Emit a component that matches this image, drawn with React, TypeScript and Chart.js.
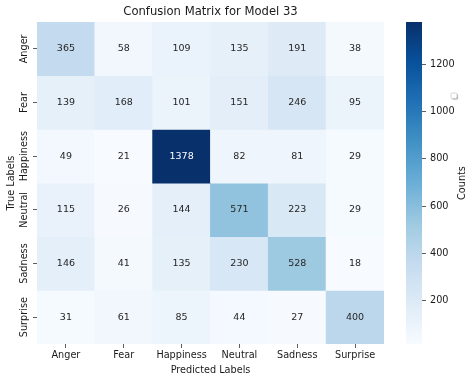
import React, { useEffect, useRef } from "react";
import { Chart, registerables } from "chart.js";

Chart.register(...registerables);

// ---------------- data ----------------
const predictedLabels = ["Anger", "Fear", "Happiness", "Neutral", "Sadness", "Surprise"];
const trueLabels = ["Anger", "Fear", "Happiness", "Neutral", "Sadness", "Surprise"];

const angerRow = [365, 58, 109, 135, 191, 38];
const fearRow = [139, 168, 101, 151, 246, 95];
const happinessRow = [49, 21, 1378, 82, 81, 29];
const neutralRow = [115, 26, 144, 571, 223, 29];
const sadnessRow = [146, 41, 135, 230, 528, 18];
const surpriseRow = [31, 61, 85, 44, 27, 400];

const matrixRows = [angerRow, fearRow, happinessRow, neutralRow, sadnessRow, surpriseRow];

const colorbarTicks = [200, 400, 600, 800, 1000, 1200];

const chartTitle = "Confusion Matrix for Model 33";
const xTitle = "Predicted Labels";
const yTitle = "True Labels";
const colorbarTitle = "Counts";

// ---------------- colour map (matplotlib "Blues") ----------------
const BLUES: number[][] = [
  [247, 251, 255],
  [222, 235, 247],
  [198, 219, 239],
  [158, 202, 225],
  [107, 174, 214],
  [66, 146, 198],
  [33, 113, 181],
  [8, 81, 156],
  [8, 48, 107],
];

function bluesRGB(t: number): number[] {
  const c = Math.max(0, Math.min(1, t)) * (BLUES.length - 1);
  const i = Math.min(Math.floor(c), BLUES.length - 2);
  const f = c - i;
  const a = BLUES[i];
  const b = BLUES[i + 1];
  return [0, 1, 2].map((k) => a[k] + (b[k] - a[k]) * f);
}
function rgbStr(c: number[]) {
  return `rgb(${Math.round(c[0])},${Math.round(c[1])},${Math.round(c[2])})`;
}
function luminance(c: number[]) {
  const lin = c.map((v) => {
    const s = v / 255;
    return s <= 0.03928 ? s / 12.92 : Math.pow((s + 0.055) / 1.055, 2.4);
  });
  return 0.2126 * lin[0] + 0.7152 * lin[1] + 0.0722 * lin[2];
}

const allValues = matrixRows.flat();
const vmin = Math.min(...allValues);
const vmax = Math.max(...allValues);
const norm = (v: number) => (v - vmin) / (vmax - vmin);

const FONT = "'DejaVu Sans', sans-serif";
const TEXT = "#1a1a1a";
const TICK = "#333";
const LABEL_SIZE = 9.7;

const extrasPlugin = {
  id: "heatmapExtras",
  afterDatasetsDraw(chart: any) {
    const ctx = chart.ctx;
    ctx.save();
    ctx.font = `9.5px ${FONT}`;
    ctx.textAlign = "center";
    ctx.textBaseline = "middle";
    chart.data.datasets.forEach((_ds: any, r: number) => {
      const meta = chart.getDatasetMeta(r);
      meta.data.forEach((el: any, c: number) => {
        const v = matrixRows[r][c];
        const p = el.getProps(["x", "y", "base"], true);
        const col = bluesRGB(norm(v));
        ctx.fillStyle = luminance(col) > 0.408 ? "#262626" : "#ffffff";
        ctx.fillText(String(v), p.x, (p.y + p.base) / 2);
      });
    });
    ctx.restore();
  },
  afterDraw(chart: any) {
    const ctx = chart.ctx;
    const yS = chart.scales.y;
    const cb = chart.scales.cbar;
    const gap = chart.scales.cbgap;
    ctx.save();

    // y tick labels (rotated, reading bottom to top)
    ctx.font = `${LABEL_SIZE}px ${FONT}`;
    ctx.fillStyle = TEXT;
    ctx.textAlign = "center";
    ctx.textBaseline = "middle";
    trueLabels.forEach((lab, i) => {
      const py = yS.getPixelForValue(i + 0.5);
      ctx.save();
      ctx.translate(yS.right - 13, py);
      ctx.rotate(-Math.PI / 2);
      ctx.fillText(lab, 0, 0);
      ctx.restore();
    });

    // colour bar
    const yTop = cb.getPixelForValue(vmax);
    const yBot = cb.getPixelForValue(vmin);
    const x1 = gap.right;
    const x0 = x1 - 16;
    const grad = ctx.createLinearGradient(0, yBot, 0, yTop);
    BLUES.forEach((c, i) => grad.addColorStop(i / (BLUES.length - 1), rgbStr(c)));
    ctx.fillStyle = grad;
    ctx.fillRect(x0, yTop, x1 - x0, yBot - yTop);

    // colour bar title
    ctx.fillStyle = TEXT;
    ctx.font = `${LABEL_SIZE}px ${FONT}`;
    ctx.save();
    ctx.translate(cb.right - 12, (cb.top + cb.bottom) / 2);
    ctx.rotate(-Math.PI / 2);
    ctx.fillText(colorbarTitle, 0, 0);
    ctx.restore();

    // empty legend box
    const lx = cb.left + 29;
    const ly = cb.top + 71;
    ctx.shadowColor = "rgba(0,0,0,0.35)";
    ctx.shadowBlur = 1;
    ctx.shadowOffsetX = 1;
    ctx.shadowOffsetY = 1;
    ctx.beginPath();
    ctx.roundRect(lx, ly, 6, 5.5, 1.5);
    ctx.fillStyle = "#ffffff";
    ctx.fill();
    ctx.shadowColor = "transparent";
    ctx.strokeStyle = "#c8c8c8";
    ctx.lineWidth = 0.8;
    ctx.stroke();
    ctx.restore();
  },
};

export default function App() {
  const canvasRef = useRef<HTMLCanvasElement | null>(null);

  useEffect(() => {
    if (!canvasRef.current) return;
    const datasets = matrixRows.map((row, r) => ({
      label: trueLabels[r],
      data: row.map(() => [r, r + 1]),
      backgroundColor: row.map((v) => rgbStr(bluesRGB(norm(v)))),
      borderWidth: 0,
      barPercentage: 1,
      categoryPercentage: 1,
      grouped: false,
      inflateAmount: 0.4,
    }));

    const chart = new Chart(canvasRef.current, {
      type: "bar",
      data: { labels: predictedLabels, datasets: datasets as any },
      options: {
        animation: false,
        responsive: false,
        events: [],
        layout: { padding: 0 },
        plugins: {
          legend: { display: false },
          tooltip: { enabled: false },
          title: {
            display: true,
            text: chartTitle,
            fullSize: false,
            color: TEXT,
            font: { family: FONT, size: 11.6, weight: "normal" },
            padding: { top: 5, bottom: 3.08 },
          },
        },
        scales: {
          x: {
            type: "category",
            offset: true,
            grid: { offset: false, drawOnChartArea: false, drawTicks: true, tickLength: 4, color: TICK, lineWidth: 0.8 },
            border: { display: false },
            ticks: { padding: 2, color: TEXT, font: { family: FONT, size: LABEL_SIZE }, maxRotation: 0, autoSkip: false },
            title: {
              display: true,
              text: xTitle,
              color: TEXT,
              font: { family: FONT, size: LABEL_SIZE },
              padding: { top: 0, bottom: 6.2 },
            },
            afterFit: (s: any) => {
              s.height = 38;
            },
          },
          y: {
            type: "linear",
            position: "left",
            min: 0,
            max: trueLabels.length,
            reverse: true,
            grid: { drawOnChartArea: false, drawTicks: true, tickLength: 4, color: TICK, lineWidth: 0.8 },
            border: { display: false },
            ticks: { color: "rgba(0,0,0,0)", font: { family: FONT, size: LABEL_SIZE } },
            title: {
              display: true,
              text: yTitle,
              color: TEXT,
              font: { family: FONT, size: LABEL_SIZE },
              padding: { top: 6, bottom: 0 },
            },
            afterBuildTicks: (s: any) => {
              s.ticks = trueLabels.map((_l, i) => ({ value: i + 0.5 }));
            },
            afterFit: (s: any) => {
              s.width = 37;
            },
          },
          cbgap: {
            type: "linear",
            position: "right",
            weight: 0,
            min: 0,
            max: 1,
            grid: { display: false },
            border: { display: false },
            ticks: { display: false },
            afterFit: (s: any) => {
              s.width = 38;
            },
          },
          cbar: {
            type: "linear",
            position: "right",
            weight: 1,
            min: vmin,
            max: vmax,
            grid: { drawOnChartArea: false, drawTicks: true, tickLength: 4, color: TICK, lineWidth: 0.8 },
            border: { display: false },
            ticks: {
              padding: 4,
              color: TEXT,
              font: { family: FONT, size: LABEL_SIZE },
              callback: (v: any) => String(v),
            },
            afterBuildTicks: (s: any) => {
              s.ticks = colorbarTicks.map((v) => ({ value: v }));
            },
            afterFit: (s: any) => {
              s.width = 52;
            },
          },
        },
      } as any,
      plugins: [extrasPlugin as any],
    });
    return () => chart.destroy();
  }, []);

  return (
    <div style={{ position: "absolute", left: 0, top: 0, width: 474, height: 382, background: "#fff" }}>
      <canvas ref={canvasRef} width={474} height={382} style={{ display: "block" }} />
    </div>
  );
}
